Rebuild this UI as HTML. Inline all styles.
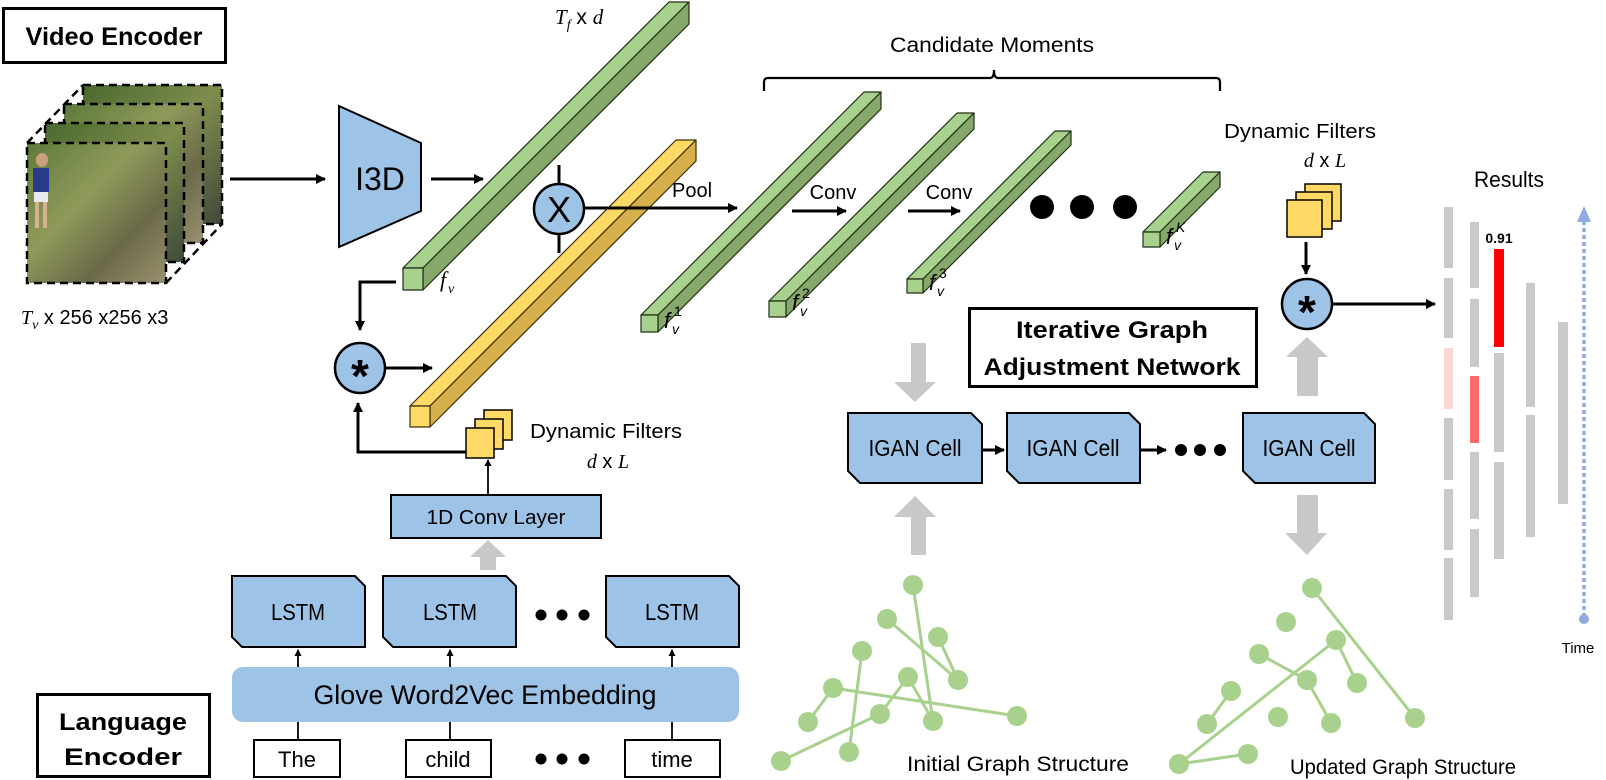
<!DOCTYPE html>
<html><head><meta charset="utf-8"><style>
html,body{margin:0;padding:0;background:#fff;}
svg{display:block;}
text{font-family:"Liberation Sans",sans-serif;fill:#000;}
.m{font-family:"Liberation Serif",serif;font-style:italic;}
</style></head><body>
<svg width="1606" height="780" viewBox="0 0 1606 780" xmlns="http://www.w3.org/2000/svg">
<defs>
<marker id="ah" markerWidth="10" markerHeight="10" refX="9" refY="5" orient="auto" markerUnits="userSpaceOnUse"><path d="M0,0 L10,5 L0,10 z" fill="#000"/></marker>
<marker id="ahs" markerWidth="7" markerHeight="7" refX="6" refY="3.5" orient="auto" markerUnits="userSpaceOnUse"><path d="M0,0 L7,3.5 L0,7 z" fill="#000"/></marker>
<linearGradient id="vid" x1="0" y1="0" x2="1" y2="1">
<stop offset="0" stop-color="#5d7a3a"/><stop offset="0.4" stop-color="#8f9a5a"/><stop offset="0.7" stop-color="#6b6a48"/><stop offset="1" stop-color="#9a9070"/></linearGradient>
<linearGradient id="vid2" x1="0" y1="0" x2="1" y2="1">
<stop offset="0" stop-color="#4c6a30"/><stop offset="0.5" stop-color="#7d8d4c"/><stop offset="1" stop-color="#3f4a3a"/></linearGradient>
</defs>

<rect x="3.5" y="8.5" width="222" height="54" fill="#fff" stroke="#000" stroke-width="3"/>
<text x="114" y="45" font-size="25" font-weight="bold" text-anchor="middle" textLength="177" lengthAdjust="spacingAndGlyphs">Video Encoder</text>

<g stroke="#000" stroke-width="2.5" stroke-dasharray="8,5">
<rect x="83" y="85" width="139" height="139" fill="url(#vid2)"/>
<rect x="64" y="104" width="139" height="139" fill="url(#vid)"/>
<rect x="45" y="123" width="139" height="139" fill="url(#vid2)"/>
<rect x="27" y="143" width="139" height="140" fill="url(#vid)"/>
<line x1="27" y1="143" x2="83" y2="85"/>
<line x1="166" y1="283" x2="222" y2="224"/>
</g>
<ellipse cx="42" cy="160" rx="6" ry="7" fill="#c8a080"/>
<rect x="33" y="168" width="16" height="24" fill="#2a3a8a"/>
<rect x="34" y="192" width="14" height="10" fill="#e8e8f0"/>
<rect x="35" y="202" width="4" height="26" fill="#d8b090"/><rect x="43" y="202" width="4" height="26" fill="#d8b090"/>
<text x="21" y="324" font-size="20"><tspan class="m">T</tspan><tspan class="m" font-size="14" dy="5">v</tspan><tspan dy="-5">  x 256 x256 x3</tspan></text>

<line x1="230" y1="179" x2="325" y2="179" stroke="#000" stroke-width="3" marker-end="url(#ah)"/>
<polygon points="339,106 421,143 421,211 339,247" fill="#9dc3e6" stroke="#000" stroke-width="2"/>
<text x="380" y="190" font-size="32" text-anchor="middle">I3D</text>
<line x1="431" y1="179" x2="483" y2="179" stroke="#000" stroke-width="3" marker-end="url(#ah)"/>

<g stroke="#1f2f14" stroke-width="1.2" stroke-linejoin="round">
<polygon points="403,268 423,268 689,2 669,2" fill="#a9d18e"/>
<polygon points="423,268 423,290 689,24 689,2" fill="#86a86a"/>
<rect x="403" y="268" width="20" height="22" fill="#a9d18e"/>
</g>
<text x="555" y="24" font-size="21"><tspan class="m">T</tspan><tspan class="m" font-size="14" dy="5">f</tspan><tspan dy="-5">  x </tspan><tspan class="m">d</tspan></text>
<text x="440" y="287" font-size="22" class="m">f</text><text x="448" y="293" font-size="14" class="m">v</text>

<g stroke="#3a2e0a" stroke-width="1.2" stroke-linejoin="round">
<polygon points="410,406 430,406 696,140 676,140" fill="#ffd966"/>
<polygon points="430,406 430,427 696,161 696,140" fill="#d6b04c"/>
<rect x="410" y="406" width="20" height="21" fill="#ffd966"/>
</g>

<line x1="559" y1="165" x2="559" y2="253" stroke="#000" stroke-width="3"/>
<line x1="584" y1="208" x2="737" y2="208" stroke="#000" stroke-width="3" marker-end="url(#ah)"/>
<circle cx="559" cy="209" r="25" fill="#9dc3e6" stroke="#000" stroke-width="2.5"/>
<text x="559" y="222" font-size="36" text-anchor="middle">X</text>
<text x="692" y="197" font-size="20" text-anchor="middle">Pool</text>

<polyline points="396,282 360,282 360,330" fill="none" stroke="#000" stroke-width="3" marker-end="url(#ah)"/>
<circle cx="360" cy="368" r="25" fill="#9dc3e6" stroke="#000" stroke-width="2.5"/>
<text x="360" y="392" font-size="46" text-anchor="middle" font-weight="bold">*</text>
<line x1="385" y1="368" x2="432" y2="368" stroke="#000" stroke-width="3" marker-end="url(#ah)"/>
<polyline points="466,452 358,452 358,403" fill="none" stroke="#000" stroke-width="3" marker-end="url(#ah)"/>

<g stroke="#000" stroke-width="1.5" fill="#ffd966">
<rect x="484" y="410" width="28" height="30"/>
<rect x="475" y="419" width="28" height="30"/>
<rect x="466" y="428" width="28" height="30"/>
</g>
<text x="530" y="438" font-size="20" textLength="152" lengthAdjust="spacingAndGlyphs">Dynamic Filters</text>
<text x="608" y="468" font-size="20" text-anchor="middle"><tspan class="m">d</tspan> x <tspan class="m">L</tspan></text>
<line x1="488" y1="495" x2="488" y2="460" stroke="#000" stroke-width="1.8" marker-end="url(#ahs)"/>
<rect x="391" y="495" width="210" height="43" fill="#9dc3e6" stroke="#000" stroke-width="2"/>
<text x="496" y="524" font-size="20" text-anchor="middle" textLength="139" lengthAdjust="spacingAndGlyphs">1D Conv Layer</text>
<polygon points="480,570 480,557 470,557 488,540 506,557 496,557 496,570" fill="#c8c8c8"/>

<g fill="#9dc3e6" stroke="#000" stroke-width="2">
<path d="M232,576 L355,576 L365,586 L365,647 L242,647 L232,637 Z"/>
<path d="M383,576 L506,576 L516,586 L516,647 L393,647 L383,637 Z"/>
<path d="M606,576 L729,576 L739,586 L739,647 L616,647 L606,637 Z"/>
</g>
<g font-size="23" text-anchor="middle">
<text x="298" y="620" textLength="54" lengthAdjust="spacingAndGlyphs">LSTM</text>
<text x="450" y="620" textLength="54" lengthAdjust="spacingAndGlyphs">LSTM</text>
<text x="672" y="620" textLength="54" lengthAdjust="spacingAndGlyphs">LSTM</text>
</g>
<g fill="#000"><circle cx="541" cy="615" r="5.5"/><circle cx="562" cy="615" r="5.5"/><circle cx="584" cy="615" r="5.5"/>
<circle cx="541" cy="759" r="5.5"/><circle cx="562" cy="759" r="5.5"/><circle cx="584" cy="759" r="5.5"/></g>
<g stroke="#000" stroke-width="1.8">
<line x1="298" y1="667" x2="298" y2="650" marker-end="url(#ahs)"/>
<line x1="450" y1="667" x2="450" y2="650" marker-end="url(#ahs)"/>
<line x1="672" y1="667" x2="672" y2="650" marker-end="url(#ahs)"/>
<line x1="298" y1="722" x2="298" y2="740"/>
<line x1="450" y1="722" x2="450" y2="740"/>
<line x1="672" y1="722" x2="672" y2="740"/>
</g>
<rect x="232" y="667" width="507" height="55" rx="11" fill="#9dc3e6"/>
<text x="485" y="704" font-size="27" text-anchor="middle" textLength="343" lengthAdjust="spacingAndGlyphs">Glove Word2Vec Embedding</text>
<g fill="#fff" stroke="#000" stroke-width="2">
<rect x="254" y="740" width="86" height="37"/>
<rect x="406" y="740" width="85" height="37"/>
<rect x="625" y="740" width="95" height="37"/>
</g>
<g font-size="22" text-anchor="middle">
<text x="297" y="767">The</text><text x="448" y="767">child</text><text x="672" y="767">time</text>
</g>
<rect x="37.5" y="694.5" width="172" height="82" fill="#fff" stroke="#000" stroke-width="3"/>
<text x="123" y="730" font-size="24" font-weight="bold" text-anchor="middle" textLength="128" lengthAdjust="spacingAndGlyphs">Language</text>
<text x="123" y="765" font-size="24" font-weight="bold" text-anchor="middle" textLength="118" lengthAdjust="spacingAndGlyphs">Encoder</text>

<text x="992" y="52" font-size="21" text-anchor="middle" textLength="204" lengthAdjust="spacingAndGlyphs">Candidate Moments</text>
<path d="M764,91 L764,82 Q764,78 768,78 L990,78 Q994,78 994,70 Q994,78 998,78 L1216,78 Q1220,78 1220,82 L1220,91" fill="none" stroke="#000" stroke-width="2.2"/>

<g stroke="#1f2f14" stroke-width="1.2" stroke-linejoin="round">
<polygon points="641,315 658,315 881,92 864,92" fill="#a9d18e"/>
<polygon points="658,315 658,332 881,109 881,92" fill="#86a86a"/>
<rect x="641" y="315" width="17" height="17" fill="#a9d18e"/>
<polygon points="769,301 786,301 974,113 957,113" fill="#a9d18e"/>
<polygon points="786,301 786,317 974,129 974,113" fill="#86a86a"/>
<rect x="769" y="301" width="17" height="16" fill="#a9d18e"/>
<polygon points="907,279 923,279 1071,131 1055,131" fill="#a9d18e"/>
<polygon points="923,279 923,293 1071,145 1071,131" fill="#86a86a"/>
<rect x="907" y="279" width="16" height="14" fill="#a9d18e"/>
<polygon points="1143,232 1160,232 1220,172 1203,172" fill="#a9d18e"/>
<polygon points="1160,232 1160,247 1220,187 1220,172" fill="#86a86a"/>
<rect x="1143" y="232" width="17" height="15" fill="#a9d18e"/>
</g>
<g class="m">
<text x="664" y="328" font-size="22">f</text><text x="672" y="334" font-size="14">v</text><text x="674" y="316" font-size="14" font-style="normal">1</text>
<text x="792" y="310" font-size="22">f</text><text x="800" y="316" font-size="14">v</text><text x="802" y="298" font-size="14" font-style="normal">2</text>
<text x="929" y="290" font-size="22">f</text><text x="937" y="296" font-size="14">v</text><text x="939" y="278" font-size="14" font-style="normal">3</text>
<text x="1166" y="244" font-size="22">f</text><text x="1174" y="250" font-size="14">v</text><text x="1176" y="232" font-size="14">K</text>
</g>
<text x="833" y="199" font-size="20" text-anchor="middle">Conv</text>
<line x1="792" y1="211" x2="846" y2="211" stroke="#000" stroke-width="3" marker-end="url(#ah)"/>
<text x="949" y="199" font-size="20" text-anchor="middle">Conv</text>
<line x1="908" y1="211" x2="960" y2="211" stroke="#000" stroke-width="3" marker-end="url(#ah)"/>
<g fill="#000"><circle cx="1042" cy="207" r="12"/><circle cx="1082" cy="207" r="12"/><circle cx="1125" cy="207" r="12"/></g>

<rect x="969.5" y="308.5" width="287" height="78" fill="#fff" stroke="#000" stroke-width="3"/>
<text x="1112" y="338" font-size="24" font-weight="bold" text-anchor="middle" textLength="192" lengthAdjust="spacingAndGlyphs">Iterative Graph</text>
<text x="1112" y="375" font-size="24" font-weight="bold" text-anchor="middle" textLength="257" lengthAdjust="spacingAndGlyphs">Adjustment Network</text>

<g fill="#c8c8c8">
<polygon points="911,343 926,343 926,382 936,382 915,402 894,382 911,382"/>
<polygon points="911,555 926,555 926,517 936,517 915,496 894,517 911,517"/>
<polygon points="1297,396 1318,396 1318,357 1328,357 1307,337 1286,357 1297,357"/>
<polygon points="1297,495 1318,495 1318,533 1327,533 1307,555 1285,533 1297,533"/>
</g>
<g fill="#9dc3e6" stroke="#000" stroke-width="2">
<path d="M848,413 L971,413 L982,424 L982,483 L860,483 L848,471 Z"/>
<path d="M1007,413 L1129,413 L1140,424 L1140,483 L1019,483 L1007,471 Z"/>
<path d="M1243,413 L1364,413 L1375,424 L1375,483 L1255,483 L1243,471 Z"/>
</g>
<g font-size="23" text-anchor="middle">
<text x="915" y="456" textLength="93" lengthAdjust="spacingAndGlyphs">IGAN Cell</text>
<text x="1073" y="456" textLength="93" lengthAdjust="spacingAndGlyphs">IGAN Cell</text>
<text x="1309" y="456" textLength="93" lengthAdjust="spacingAndGlyphs">IGAN Cell</text>
</g>
<line x1="983" y1="450" x2="1004" y2="450" stroke="#000" stroke-width="3" marker-end="url(#ah)"/>
<line x1="1141" y1="450" x2="1166" y2="450" stroke="#000" stroke-width="3" marker-end="url(#ah)"/>
<g fill="#000"><circle cx="1181" cy="450" r="6"/><circle cx="1200" cy="450" r="6"/><circle cx="1220" cy="450" r="6"/></g>

<text x="1300" y="138" font-size="20" text-anchor="middle" textLength="152" lengthAdjust="spacingAndGlyphs">Dynamic Filters</text>
<text x="1325" y="167" font-size="20" text-anchor="middle"><tspan class="m">d</tspan> x <tspan class="m">L</tspan></text>
<g stroke="#000" stroke-width="1.5" fill="#ffd966">
<rect x="1305" y="184" width="36" height="37"/>
<rect x="1296" y="192" width="36" height="37"/>
<rect x="1287" y="200" width="35" height="37"/>
</g>
<line x1="1306" y1="242" x2="1306" y2="274" stroke="#000" stroke-width="3" marker-end="url(#ah)"/>
<circle cx="1307" cy="304" r="25" fill="#9dc3e6" stroke="#000" stroke-width="2.5"/>
<text x="1307" y="328" font-size="46" text-anchor="middle" font-weight="bold">*</text>
<line x1="1333" y1="304" x2="1435" y2="304" stroke="#000" stroke-width="3" marker-end="url(#ah)"/>

<text x="1509" y="187" font-size="22" text-anchor="middle" textLength="70" lengthAdjust="spacingAndGlyphs">Results</text>
<g fill="#c9c9c9">
<rect x="1444" y="207" width="9" height="61"/><rect x="1444" y="278" width="9" height="60"/>
<rect x="1444" y="348" width="9" height="61" fill="#ffd6d6"/>
<rect x="1444" y="418" width="9" height="62"/><rect x="1444" y="489" width="9" height="61"/><rect x="1444" y="558" width="9" height="62"/>
<rect x="1470" y="222" width="9" height="66"/><rect x="1470" y="299" width="9" height="68"/>
<rect x="1470" y="376" width="9" height="67" fill="#ff6b6b"/>
<rect x="1470" y="452" width="9" height="67"/><rect x="1470" y="529" width="9" height="68"/>
<rect x="1494" y="249" width="10" height="98" fill="#ff0000"/>
<rect x="1494" y="353" width="10" height="99"/><rect x="1494" y="462" width="10" height="97"/>
<rect x="1526" y="283" width="9" height="124"/><rect x="1526" y="415" width="9" height="122"/>
<rect x="1558" y="322" width="10" height="182"/>
</g>
<text x="1499" y="243" font-size="14" font-weight="bold" text-anchor="middle">0.91</text>
<line x1="1584" y1="617" x2="1584" y2="222" stroke="#8faadc" stroke-width="3.5" stroke-dasharray="4,3"/>
<polygon points="1584,206 1577,222 1591,222" fill="#8faadc"/>
<circle cx="1584" cy="619" r="5" fill="#8faadc"/>
<text x="1578" y="653" font-size="15" text-anchor="middle">Time</text>

<g stroke="#a9d18e" stroke-width="3">
<line x1="913" y1="585" x2="933" y2="721"/><line x1="887" y1="619" x2="958" y2="680"/>
<line x1="938" y1="637" x2="958" y2="680"/><line x1="862" y1="651" x2="849" y2="752"/>
<line x1="833" y1="688" x2="1017" y2="716"/><line x1="833" y1="688" x2="808" y2="722"/>
<line x1="908" y1="677" x2="880" y2="714"/><line x1="908" y1="677" x2="933" y2="721"/>
<line x1="880" y1="714" x2="781" y2="761"/>
</g>
<g fill="#a9d18e">
<circle cx="913" cy="585" r="10"/><circle cx="887" cy="619" r="10"/><circle cx="938" cy="637" r="10"/>
<circle cx="862" cy="651" r="10"/><circle cx="958" cy="680" r="10"/><circle cx="908" cy="677" r="10"/>
<circle cx="833" cy="688" r="10"/><circle cx="808" cy="722" r="10"/><circle cx="880" cy="714" r="10"/>
<circle cx="933" cy="721" r="10"/><circle cx="1017" cy="716" r="10"/><circle cx="849" cy="752" r="10"/>
<circle cx="781" cy="761" r="10"/>
</g>
<text x="907" y="771" font-size="21" textLength="222" lengthAdjust="spacingAndGlyphs">Initial Graph Structure</text>

<g stroke="#a9d18e" stroke-width="3">
<line x1="1312" y1="588" x2="1415" y2="718"/><line x1="1336" y1="640" x2="1357" y2="683"/>
<line x1="1259" y1="654" x2="1307" y2="680"/><line x1="1307" y1="680" x2="1331" y2="723"/>
<line x1="1231" y1="691" x2="1207" y2="724"/><line x1="1179" y1="764" x2="1336" y2="640"/>
<line x1="1179" y1="764" x2="1248" y2="754"/>
</g>
<g fill="#a9d18e">
<circle cx="1312" cy="588" r="10"/><circle cx="1286" cy="622" r="10"/><circle cx="1336" cy="640" r="10"/>
<circle cx="1259" cy="654" r="10"/><circle cx="1307" cy="680" r="10"/><circle cx="1357" cy="683" r="10"/>
<circle cx="1231" cy="691" r="10"/><circle cx="1207" cy="724" r="10"/><circle cx="1278" cy="717" r="10"/>
<circle cx="1331" cy="723" r="10"/><circle cx="1415" cy="718" r="10"/><circle cx="1248" cy="754" r="10"/>
<circle cx="1179" cy="764" r="10"/>
</g>
<text x="1290" y="774" font-size="21" textLength="226" lengthAdjust="spacingAndGlyphs">Updated Graph Structure</text>
</svg>
</body></html>
